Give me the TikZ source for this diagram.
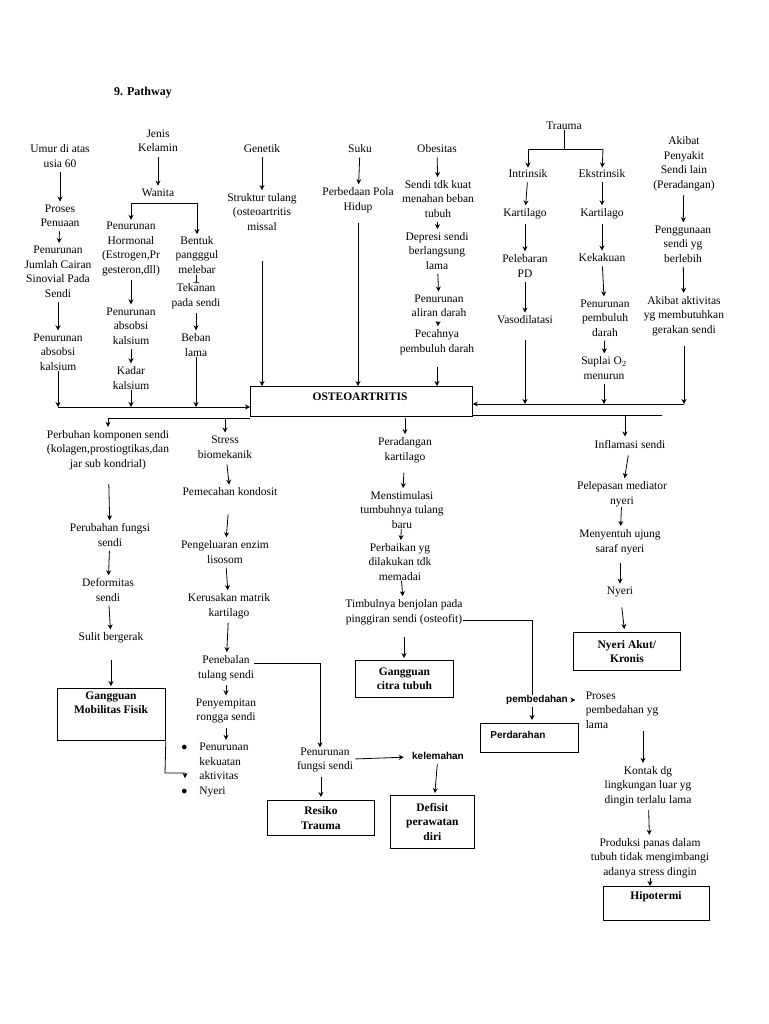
\documentclass[tikz,border=0pt]{standalone}
\usepackage{fontspec}
\setmainfont{Liberation Serif}
\newfontfamily\sansf{Liberation Sans}
\usetikzlibrary{arrows.meta}

\tikzset{
  txt/.style={align=center, inner sep=0pt, font=\fontsize{11.5}{14.5}\selectfont},
  box/.style={draw, thick, align=center, font=\bfseries\fontsize{11.5}{14.5}\selectfont},
  sb/.style={inner sep=0pt, font=\sansf\bfseries\fontsize{10}{12}\selectfont},
  arr/.style={-{Stealth[length=5pt,width=5pt]}, shorten >=3pt, shorten <=4pt},
  ln/.style={-{Stealth[length=5pt,width=5pt]}}
}

\begin{document}
\begin{tikzpicture}[x=1pt, y=-1pt, thick]
\useasboundingbox (0,0) rectangle (768,1024);

\path (143,93) node[txt, font=\bfseries\fontsize{12}{14}\selectfont] (title) {9. Pathway};

% left inputs
\path (60,156) node[txt] (umur) {Umur di atas\\usia 60}
      (60,216) node[txt] (penuaan) {Proses\\Penuaan}
      (58,272) node[txt] (cairan) {Penurunan\\Jumlah Cairan\\Sinovial Pada\\Sendi}
      (58,352) node[txt] (absA) {Penurunan\\absobsi\\kalsium};
\draw[arr] (umur) -- (penuaan);
\draw[arr] (penuaan) -- (cairan);
\draw[arr] (cairan) -- (absA);

\path (158,141) node[txt] (jenis) {Jenis\\Kelamin}
      (158,193) node[txt] (wanita) {Wanita}
      (131,249) node[txt] (hormon) {Penurunan\\Hormonal\\(Estrogen,Pr\\gesteron,dll)}
      (197,255) node[txt] (bentuk) {Bentuk\\pangggul\\melebar}
      (196,296) node[txt] (tekanan) {Tekanan\\pada sendi}
      (196,345) node[txt] (beban) {Beban\\lama}
      (131,326) node[txt] (absB) {Penurunan\\absobsi\\kalsium}
      (131,378) node[txt] (kadar) {Kadar\\kalsium};
\draw[arr] (jenis) -- (wanita);
\coordinate (wl) at (131,203);
\coordinate (wr) at (197,203);
\draw (wl) -- (wr);
\draw[ln, shorten >=2pt] (wl) -- (hormon);
\draw[ln, shorten >=2pt] (wr) -- (bentuk);
\draw[arr] (hormon) -- (absB);
\draw[arr] (absB) -- (kadar);
\draw[-{Bar[width=6pt]}, shorten <=1pt] (bentuk) -- (tekanan);
\draw[arr] (tekanan) -- (beban);

% core
\node[draw, thick, minimum width=222pt, minimum height=30pt, anchor=north west,
      font=\bfseries\fontsize{11.5}{14}\selectfont] (oa) at (250,386) {};
\node[txt, font=\bfseries\fontsize{11.5}{14}\selectfont] (oalabel) at (360,397) {OSTEOARTRITIS};

\coordinate (ba) at (58,407);
\coordinate (bb) at (131,407);
\coordinate (bc) at (196,407);
\draw[ln] (ba) -- (oa.west |- ba);
\draw[ln] (absA) -- (ba);
\draw[ln] (kadar) -- (bb);
\draw[ln] (beban) -- (bc);

\path (262,149) node[txt] (genetik) {Genetik}
      (262,212) node[txt] (struktur) {Struktur tulang\\(osteoartritis\\missal}
      (360,149) node[txt] (suku) {Suku}
      (358,200) node[txt] (pola) {Perbedaan Pola\\Hidup};
\draw[arr] (genetik) -- (struktur);
\draw[ln, shorten <=30pt] (struktur) -- (oa.north -| struktur);
\draw[arr] (suku) -- (pola);
\draw[ln, shorten <=10pt] (pola) -- (oa.north -| pola);

\path (437,149) node[txt] (obes) {Obesitas}
      (438,199) node[txt] (tdkkuat) {Sendi tdk kuat\\menahan beban\\tubuh}
      (437,251) node[txt] (depresi) {Depresi sendi\\berlangsung\\lama}
      (439,306) node[txt] (aliran) {Penurunan\\aliran darah}
      (437,342) node[txt] (pecah) {Pecahnya\\pembuluh darah};
\draw[arr] (obes) -- (tdkkuat);
\draw[arr] (tdkkuat) -- (depresi);
\draw[arr] (depresi) -- (aliran);
\draw[arr] (aliran) -- (pecah);
\draw[arr, shorten <=12pt, shorten >=0pt] (pecah) -- (oa.north -| pecah);

% trauma
\path (564,126) node[txt] (trauma) {Trauma}
      (528,174) node[txt] (intr) {Intrinsik}
      (525,214) node[txt] (kart1) {Kartilago}
      (525,266) node[txt] (lebar) {Pelebaran\\PD}
      (525,320) node[txt] (vaso) {Vasodilatasi}
      (602,174) node[txt] (ekstr) {Ekstrinsik}
      (602,214) node[txt] (kart2) {Kartilago}
      (602,258) node[txt] (kaku) {Kekakuan}
      (605,318) node[txt] (pembuluh) {Penurunan\\pembuluh\\darah}
      (604,368) node[txt] (suplai) {Suplai O$_2$\\menurun}
      (684,164) node[txt] (akibat) {Akibat\\Penyakit\\Sendi lain\\(Peradangan)}
      (683,244) node[txt] (guna) {Penggunaan\\sendi yg\\berlebih}
      (684,316) node[txt] (gerak) {Akibat aktivitas\\yg membutuhkan\\gerakan sendi};
\coordinate (tj) at (564,149);
\coordinate (tl) at (528,149);
\coordinate (tr) at (603,149);
\draw (trauma) -- (tj);
\draw (tl) -- (tr);
\draw[ln, shorten >=2pt] (tl) -- (intr);
\draw[ln, shorten >=2pt] (tr) -- (ekstr);
\draw[arr] (intr) -- (kart1);
\draw[arr] (kart1) -- (lebar);
\draw[arr] (lebar) -- (vaso);
\draw[arr] (ekstr) -- (kart2);
\draw[arr] (kart2) -- (kaku);
\draw[arr] (kaku) -- (pembuluh);
\draw[arr] (pembuluh) -- (suplai);
\draw[arr] (akibat) -- (guna);
\draw[arr] (guna) -- (gerak);
\coordinate (ra) at (684,404);
\coordinate (rb) at (525,404);
\coordinate (rc) at (604,404);
\draw[ln] (ra) -- (oa.east |- ra);
\draw[ln, shorten <=10pt] (gerak) -- (ra);
\draw[ln, shorten <=16pt] (vaso) -- (rb);
\draw[ln, shorten <=4pt] (suplai) -- (rc);

% outputs
\coordinate (oll) at (108,418);
\coordinate (olr) at (225,418);
\coordinate (orl) at (472,415);
\coordinate (orr) at (662,415);
\coordinate (orm) at (625,415);
\draw (oll) -- (oa.south west |- oll);
\draw (orl) -- (orr);

\path (108,450) node[txt] (perbuhan) {Perbuhan komponen sendi\\(kolagen,prostiogtikas,dan\\jar sub kondrial)}
      (110,535) node[txt] (ubahfungsi) {Perubahan fungsi\\sendi}
      (108,590) node[txt] (deform) {Deformitas\\sendi}
      (111,638) node[txt] (sulit) {Sulit bergerak};
\node[box, anchor=north west, minimum width=108pt, minimum height=52pt, inner sep=2pt] (mobil) at (57,688) {};
\node[txt, font=\bfseries\fontsize{11.5}{14.5}\selectfont, anchor=north] (mobiltx) at (111,691) {Gangguan\\Mobilitas Fisik};
\draw[ln, shorten >=3pt] (oll) -- (perbuhan);
\draw[arr, shorten <=14pt] (perbuhan) -- (ubahfungsi);
\draw[arr] (ubahfungsi) -- (deform);
\draw[arr] (deform) -- (sulit);
\draw[arr, shorten <=16pt, shorten >=2pt] (sulit) -- (mobil.north -| sulit);

\path (225,447) node[txt] (stress) {Stress\\biomekanik}
      (230,492) node[txt] (pecahkon) {Pemecahan kondosit}
      (225,552) node[txt] (enzim) {Pengeluaran enzim\\lisosom}
      (229,606) node[txt] (rusak) {Kerusakan matrik\\kartilago}
      (226,668) node[txt] (tebal) {Penebalan\\tulang sendi}
      (226,711) node[txt] (sempit) {Penyempitan\\rongga sendi}
      (215,770) node[txt, align=left] (bullets) {$\bullet$\hspace{12pt}Penurunan\\\hphantom{$\bullet$}\hspace{12pt}kekuatan\\\hphantom{$\bullet$}\hspace{12pt}aktivitas\\$\bullet$\hspace{12pt}Nyeri};
\draw[ln, shorten >=3pt] (olr) -- (stress);
\draw[arr, shorten <=6pt] (stress) -- (pecahkon);
\draw[arr, shorten <=18pt] (pecahkon) -- (enzim);
\draw[arr] (enzim) -- (rusak);
\draw[arr] (rusak) -- (tebal);
\draw[arr] (tebal) -- (sempit);
\draw[arr] (sempit) -- (bullets.north -| sempit);
\coordinate (mb) at (165,773);
\coordinate (mc) at (185,773);
\draw (mobil.south east) -- (mb) -- (mc);
\draw[ln] (mc) -- ++(0,5);

\path (325,760) node[txt] (turunfs) {Penurunan\\fungsi sendi}
      (438,756) node[sb] (lemah) {kelemahan};
\node[box, anchor=north west, minimum width=107pt, minimum height=35pt, inner sep=1pt] (resiko) at (267,800) {Resiko\\Trauma};
\node[box, anchor=north west, minimum width=84pt, minimum height=53pt, inner sep=1pt] (defisit) at (390,795) {Defisit\\perawatan\\diri};
\coordinate (tb1) at (320,663);
\draw[ln] (tebal.east |- tb1) -- (tb1) -- (turunfs.north -| tb1);
\draw[arr, shorten <=2pt, shorten >=8pt] (turunfs) -- (lemah);
\draw[arr] (turunfs.south -| resiko) -- (resiko);
\draw[arr, shorten >=2pt] (lemah) -- (defisit);

\path (405,450) node[txt] (radang) {Peradangan\\kartilago}
      (402,510) node[txt] (stimul) {Menstimulasi\\tumbuhnya tulang\\baru}
      (400,562) node[txt] (baik) {Perbaikan yg\\dilakukan tdk\\memadai}
      (404,612) node[txt] (benjol) {Timbulnya benjolan pada\\pinggiran sendi (osteofit)};
\node[box, anchor=north west, minimum width=98pt, minimum height=37pt, inner sep=1pt] (citra) at (355,660) {Gangguan\\citra tubuh};
\draw[arr, shorten <=1pt] (oa.south -| radang) -- (radang);
\draw[arr, shorten <=10pt] (radang) -- (stimul);
\draw[arr, shorten <=0pt] (stimul) -- (baik);
\draw[arr, shorten <=0pt] (baik) -- (benjol);
\draw[arr, shorten <=12pt, shorten >=2pt] (benjol) -- (citra.north -| benjol);

\path (537,700) node[sb] (bedah) {pembedahan}
      (622,710) node[txt, align=left] (prosbedah) {Proses\\pembedahan yg\\lama}
      (648,786) node[txt] (kontak) {Kontak dg\\lingkungan luar yg\\dingin terlalu lama}
      (650,858) node[txt] (panas) {Produksi panas  dalam\\tubuh tidak mengimbangi\\adanya stress dingin};
\node[draw, thick, anchor=north west, minimum width=98pt, minimum height=29pt, inner sep=4pt, text depth=0pt] (darah) at (480,723) {};
\node[sb, anchor=north west] (darahtx) at (490,731) {Perdarahan};
\node[box, anchor=north west, minimum width=106pt, minimum height=34pt, inner sep=1pt] (hipo) at (603,886) {};
\node[txt, font=\bfseries\fontsize{11.5}{14}\selectfont, anchor=north] (hipotx) at (656,891) {Hipotermi};
\coordinate (bj) at (532,620);
\draw (benjol.east |- bj) -- (bj) -- (bedah.north -| bj);
\draw[arr, shorten <=2pt] (bedah.south -| bj) -- (darah.north -| bj);
\draw[arr, shorten >=10pt] (bedah) -- (prosbedah.west |- bedah);
\draw[arr, shorten <=2pt] (prosbedah.south -| kontak) ++(-5,0) -- (kontak.north -| 643,0);
\draw[arr] (kontak) -- (panas);
\draw[arr, shorten <=0pt, shorten >=0pt] (panas) -- (hipo.north -| panas);

\path (630,445) node[txt] (inflam) {Inflamasi sendi}
      (622,494) node[txt] (mediator) {Pelepasan mediator\\nyeri}
      (620,542) node[txt] (saraf) {Menyentuh ujung\\saraf nyeri}
      (620,592) node[txt] (nyeri) {Nyeri};
\node[box, anchor=north west, minimum width=107pt, minimum height=38pt, inner sep=1pt] (akut) at (573,632) {Nyeri Akut/\\Kronis};
\draw[ln, shorten >=4pt] (orm) -- (inflam.north -| orm);
\draw[arr, shorten <=6pt] (inflam) -- (mediator);
\draw[arr, shorten <=0pt] (mediator) -- (saraf);
\draw[arr, shorten <=8pt] (saraf) -- (nyeri);
\draw[arr, shorten <=10pt] (nyeri) -- (akut);
\end{tikzpicture}
\end{document}
